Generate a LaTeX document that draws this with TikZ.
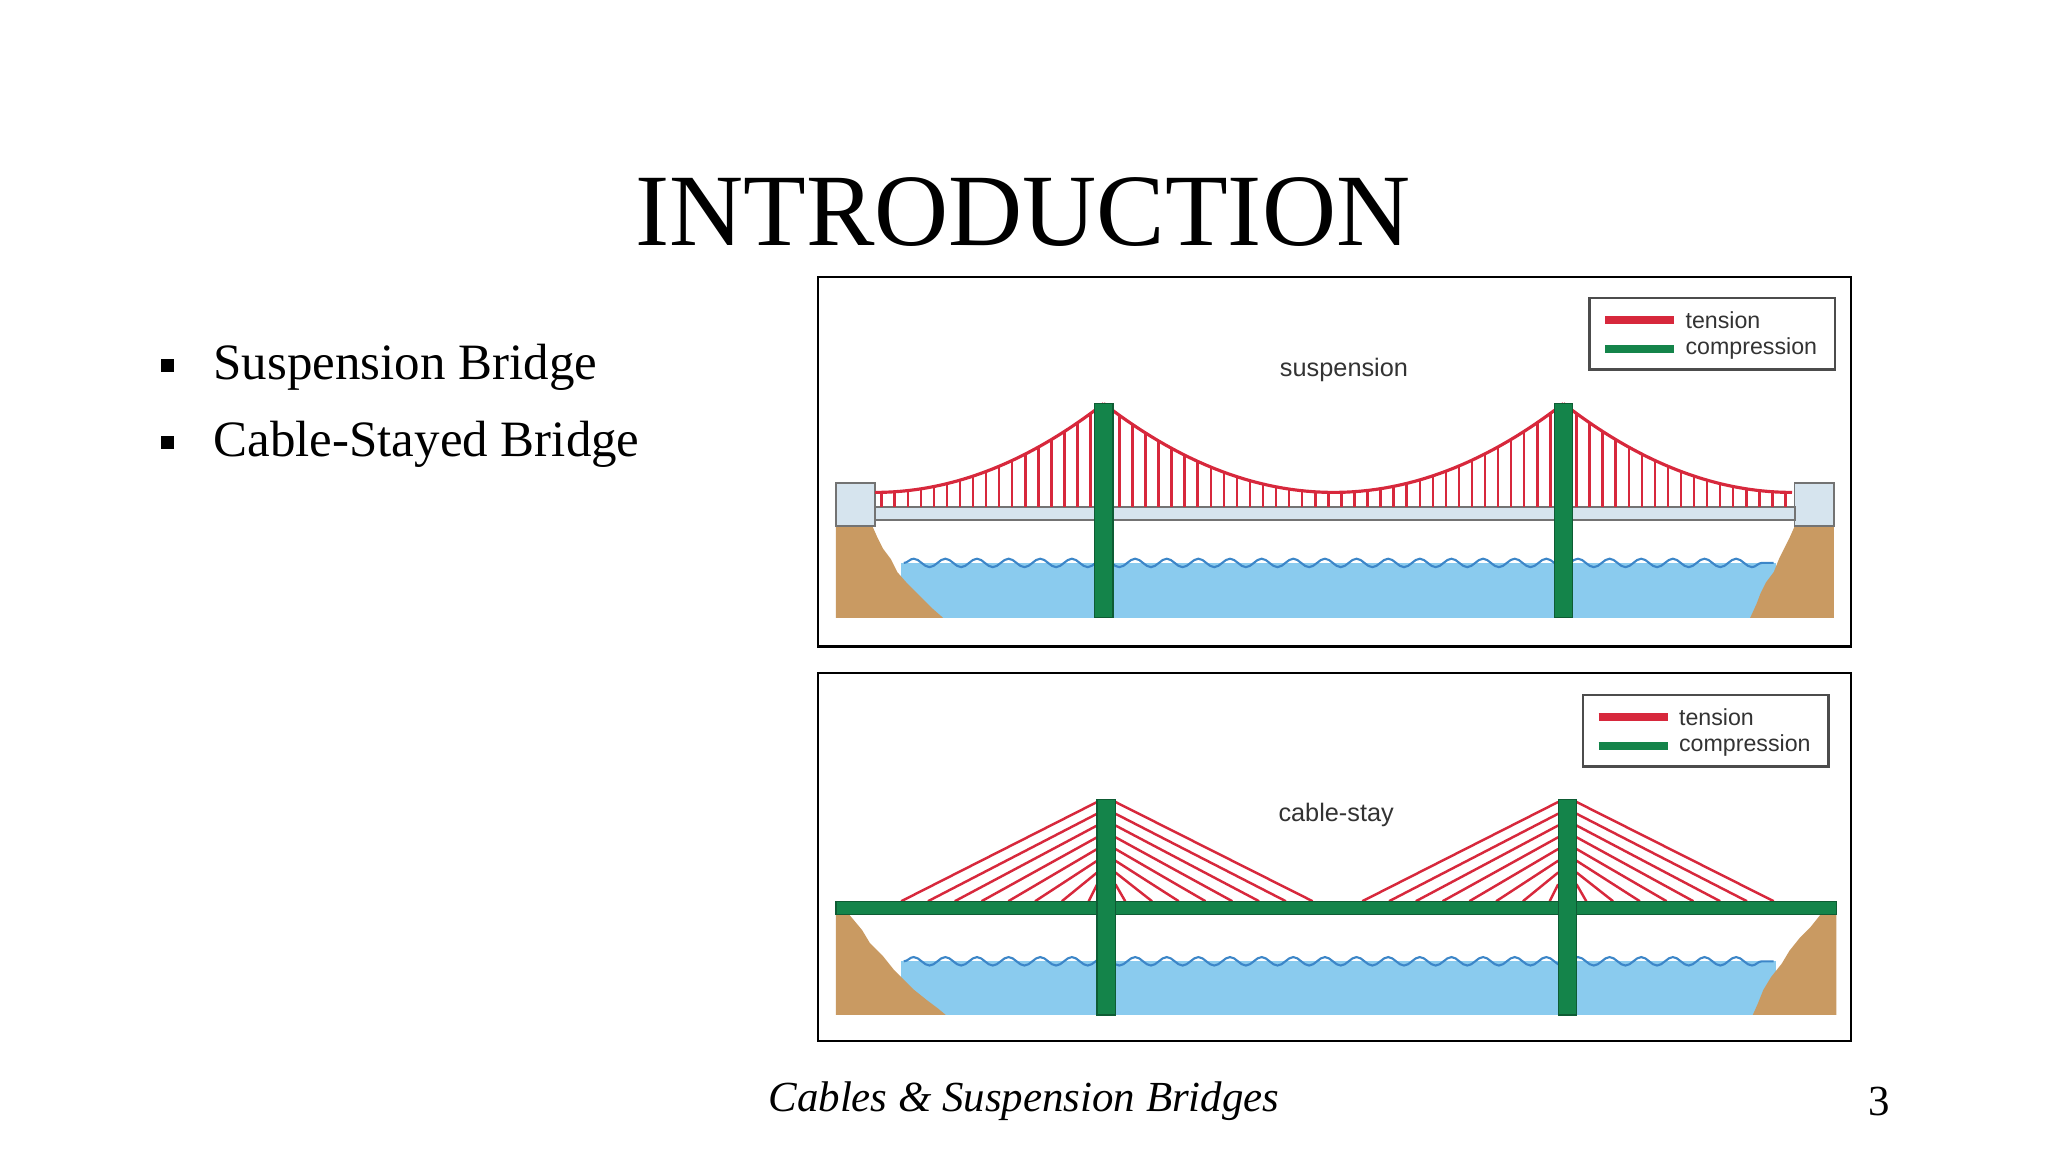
\documentclass[tikz,border=0pt]{standalone}
\usepackage{fontspec}
\setmainfont{Liberation Serif}
\newfontfamily\arial{Liberation Sans}
\usetikzlibrary{decorations.pathmorphing}
\definecolor{tred}{HTML}{D7283C}
\definecolor{tgreen}{HTML}{14844A}
\definecolor{rock}{HTML}{C99A62}
\definecolor{water}{HTML}{8ACBEE}
\definecolor{wline}{HTML}{3C86C8}
\definecolor{deckc}{HTML}{D6E4EE}
\tikzset{
 panel/.style={draw=black,line width=0.6pt},
 cable/.style={draw=tred,line width=0.9pt},
 hanger/.style={draw=tred,line width=0.7pt},
 tower/.style={fill=tgreen,draw=tgreen!70!black,line width=0.4pt},
 lab/.style={font=\arial\fontsize{7.2pt}{9pt}\selectfont,text=black!80,inner sep=0pt},
 leg/.style={font=\arial\fontsize{6.6pt}{8pt}\selectfont,text=black!80,inner sep=0pt},
 legbox/.style={draw=black!70,line width=0.7pt,fill=white},
}
\begin{document}
\begin{tikzpicture}[x=0.01306cm,y=-0.01306cm]
\useasboundingbox (0,0) rectangle (1568,882);
% slide text
\node (title) at (783,162) {\fontsize{29.2pt}{32pt}\selectfont INTRODUCTION};
\node (b1) [anchor=west] at (154,281) {\fontsize{14.5pt}{17pt}\selectfont Suspension Bridge};
\node (b2) [anchor=west] at (154,340) {\fontsize{14.5pt}{17pt}\selectfont Cable-Stayed Bridge};
\fill (123,275) rectangle (133,285);
\fill (123,334) rectangle (133,344);
\node (foot) at (784,843) {\fontsize{12.2pt}{15pt}\selectfont\itshape Cables \& Suspension Bridges};
\node (num) at (1439,843) {\fontsize{12.2pt}{15pt}\selectfont 3};

% ===== Panel 1: suspension =====
\draw[panel] (626,212) rectangle (1417,495);
\fill[water] (690,431) rectangle (1360,473);
\draw[wline,line width=0.6pt,decorate,decoration={snake,amplitude=1.2,segment length=9}] (692,431) -- (1358,431);
\fill[rock] (640,403) -- (668,403) -- (672,412) -- (676,420) -- (682,428) -- (687,438) -- (694,446) -- (700,452) -- (708,460) -- (714,466) -- (722,473) -- (640,473) -- cycle;
\fill[rock] (1404,403) -- (1374,403) -- (1370,412) -- (1366,420) -- (1362,428) -- (1358,438) -- (1352,446) -- (1348,454) -- (1345,462) -- (1340,473) -- (1404,473) -- cycle;
\draw[fill=deckc,draw=black!55,line width=0.5pt] (640,370) rectangle (670,403);
\draw[fill=deckc,draw=black!55,line width=0.5pt] (1374,370) rectangle (1404,403);
\draw[fill=deckc,draw=black!55,line width=0.6pt] (670,388) rectangle (1374,398);
\foreach \xx in {675,685,...,835} \draw[hanger] (\xx,{377-68*((\xx-670)/175)^2}) -- (\xx,388);
\foreach \xx in {857,867,...,1187} \draw[hanger] (\xx,{377-68*((\xx-1021)/176)^2}) -- (\xx,388);
\foreach \xx in {1207,1217,...,1367} \draw[hanger] (\xx,{377-68*((\xx-1372)/175)^2}) -- (\xx,388);
\draw[cable] plot[domain=670:845,samples=40] (\x,{377-68*((\x-670)/175)^2});
\draw[cable] plot[domain=845:1197,samples=60] (\x,{377-68*((\x-1021)/176)^2});
\draw[cable] plot[domain=1197:1372,samples=40] (\x,{377-68*((\x-1372)/175)^2});
\draw[tower] (838,309) rectangle (852,473);
\draw[tower] (1190,309) rectangle (1204,473);
\node[lab] (sl) at (1029,283) {suspension};
\draw[legbox] (1217,228) rectangle (1405,283);
\draw[tred,line width=2.2pt] (1229,245) -- (1282,245);
\draw[tgreen,line width=2.2pt] (1229,267) -- (1282,267);
\node[leg,anchor=west] (lt1) at (1290,245) {tension};
\node[leg,anchor=west] (lc1) at (1290,267) {compression};

% ===== Panel 2: cable-stay =====
\draw[panel] (626,515) rectangle (1417,797);
\fill[water] (690,736) rectangle (1360,777);
\draw[wline,line width=0.6pt,decorate,decoration={snake,amplitude=1.2,segment length=9}] (692,736) -- (1358,736);
\fill[rock] (640,700) -- (650,700) -- (660,712) -- (666,722) -- (676,732) -- (684,742) -- (692,750) -- (700,758) -- (710,766) -- (718,772) -- (724,777) -- (640,777) -- cycle;
\fill[rock] (1406,700) -- (1394,700) -- (1386,710) -- (1378,718) -- (1370,728) -- (1364,738) -- (1356,748) -- (1350,758) -- (1346,768) -- (1342,777) -- (1406,777) -- cycle;
\foreach \i in {0,...,7} {
  \draw[hanger] (840,{614+9*\i}) -- ({690+20.5*\i},690);
  \draw[hanger] (854,{614+9*\i}) -- ({1005-20.5*\i},690);
  \draw[hanger] (1193,{614+9*\i}) -- ({1043+20.5*\i},690);
  \draw[hanger] (1207,{614+9*\i}) -- ({1358-20.5*\i},690);
}
\draw[tower] (640,690) rectangle (1406,700);
\draw[tower] (840,612) rectangle (854,777);
\draw[tower] (1193,612) rectangle (1207,777);
\node[lab] (cl) at (1023,624) {cable-stay};
\draw[legbox] (1212,532) rectangle (1400,587);
\draw[tred,line width=2.2pt] (1224,549) -- (1277,549);
\draw[tgreen,line width=2.2pt] (1224,571) -- (1277,571);
\node[leg,anchor=west] (lt2) at (1285,549) {tension};
\node[leg,anchor=west] (lc2) at (1285,571) {compression};
\end{tikzpicture}
\end{document}
